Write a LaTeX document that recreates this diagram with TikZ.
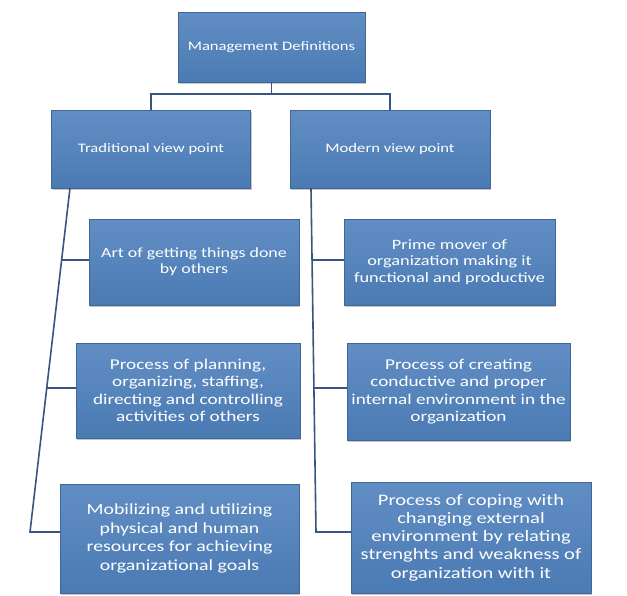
\documentclass[tikz,border=0pt]{standalone}
\usepackage{fontspec}
\setmainfont{Carlito}[FakeStretch=1.28]
\usetikzlibrary{shadows}
\definecolor{boxblue}{RGB}{79,129,189}
\definecolor{linkblue}{RGB}{55,85,128}
\tikzstyle{box} = [rectangle, inner sep=2pt, align=center, text=white, top color=boxblue!90!white, bottom color=boxblue!95!black, draw=boxblue!80!black, line width=0.4pt, drop shadow={shadow xshift=1.2pt, shadow yshift=-2pt, opacity=0.45}]
\tikzstyle{link} = [line width=1.6pt, draw=linkblue]

\begin{document}
\begin{tikzpicture}[x=1pt, y=-1pt]
			\useasboundingbox (0,0) rectangle (627,595);
			\node (mgmt) [box, minimum width=187pt, minimum height=70pt, font=\fontsize{13}{16}\selectfont] at (271.5,47) {Management Definitions};
			\node (trad) [box, minimum width=199pt, minimum height=78pt, font=\fontsize{13}{16}\selectfont] at (151,149) {Traditional view point};
			\node (modern) [box, minimum width=200pt, minimum height=78pt, font=\fontsize{13}{16}\selectfont] at (390,149) {Modern view point};
			
			\node (trad1) [box, minimum width=210pt, minimum height=86pt, font=\fontsize{14}{16.5}\selectfont] at (194,262) {Art of getting things done\\by others};
			\node (trad2) [box, minimum width=224pt, minimum height=95pt, font=\fontsize{15}{17.5}\selectfont] at (188,390.5) {Process of planning,\\organizing, staffing,\\directing and controlling\\activities of others};
			\node (trad3) [box, minimum width=239pt, minimum height=109pt, font=\fontsize{15.5}{18.7}\selectfont] at (179.5,538.5) {Mobilizing and utilizing\\physical and human\\resources for achieving\\organizational goals};
			
			\node (mod1) [box, minimum width=211pt, minimum height=86pt, font=\fontsize{14.3}{16.5}\selectfont] at (449.5,262) {Prime mover of\\organization making it\\functional and productive};
			\node (mod2) [box, minimum width=223pt, minimum height=97pt, font=\fontsize{15}{17.5}\selectfont] at (458.5,391.5) {Process of creating\\conductive and proper\\internal environment in the\\organization};
			\node (mod3) [box, minimum width=240pt, minimum height=111pt, font=\fontsize{16}{18.3}\selectfont] at (471,537.5) {Process of coping with\\changing external\\environment by relating\\strenghts and weakness of\\organization with it};
			
			% trunk end points
			\coordinate (ltop) at (70,188);
			\coordinate (lbot) at (30,532);
			\coordinate (rtop) at (311,188);
			\coordinate (rbot) at (316,532);
			\coordinate (l1) at (61.6,260);
			\coordinate (l2) at (46.7,388);
			\coordinate (r1) at (312,260);
			\coordinate (r2) at (314,388);
			
			\draw [link] (mgmt.south) -- ++(0,12) -| (trad.north);
			\draw [link] (mgmt.south) -- ++(0,12) -| (modern.north);
			\draw [link] (ltop) -- (lbot) -- (lbot -| trad3.west);
			\draw [link] (l1) -- (l1 -| trad1.west);
			\draw [link] (l2) -- (l2 -| trad2.west);
			\draw [link] (rtop) -- (rbot) -- (rbot -| mod3.west);
			\draw [link] (r1) -- (r1 -| mod1.west);
			\draw [link] (r2) -- (r2 -| mod2.west);
		\end{tikzpicture}
\end{document}
